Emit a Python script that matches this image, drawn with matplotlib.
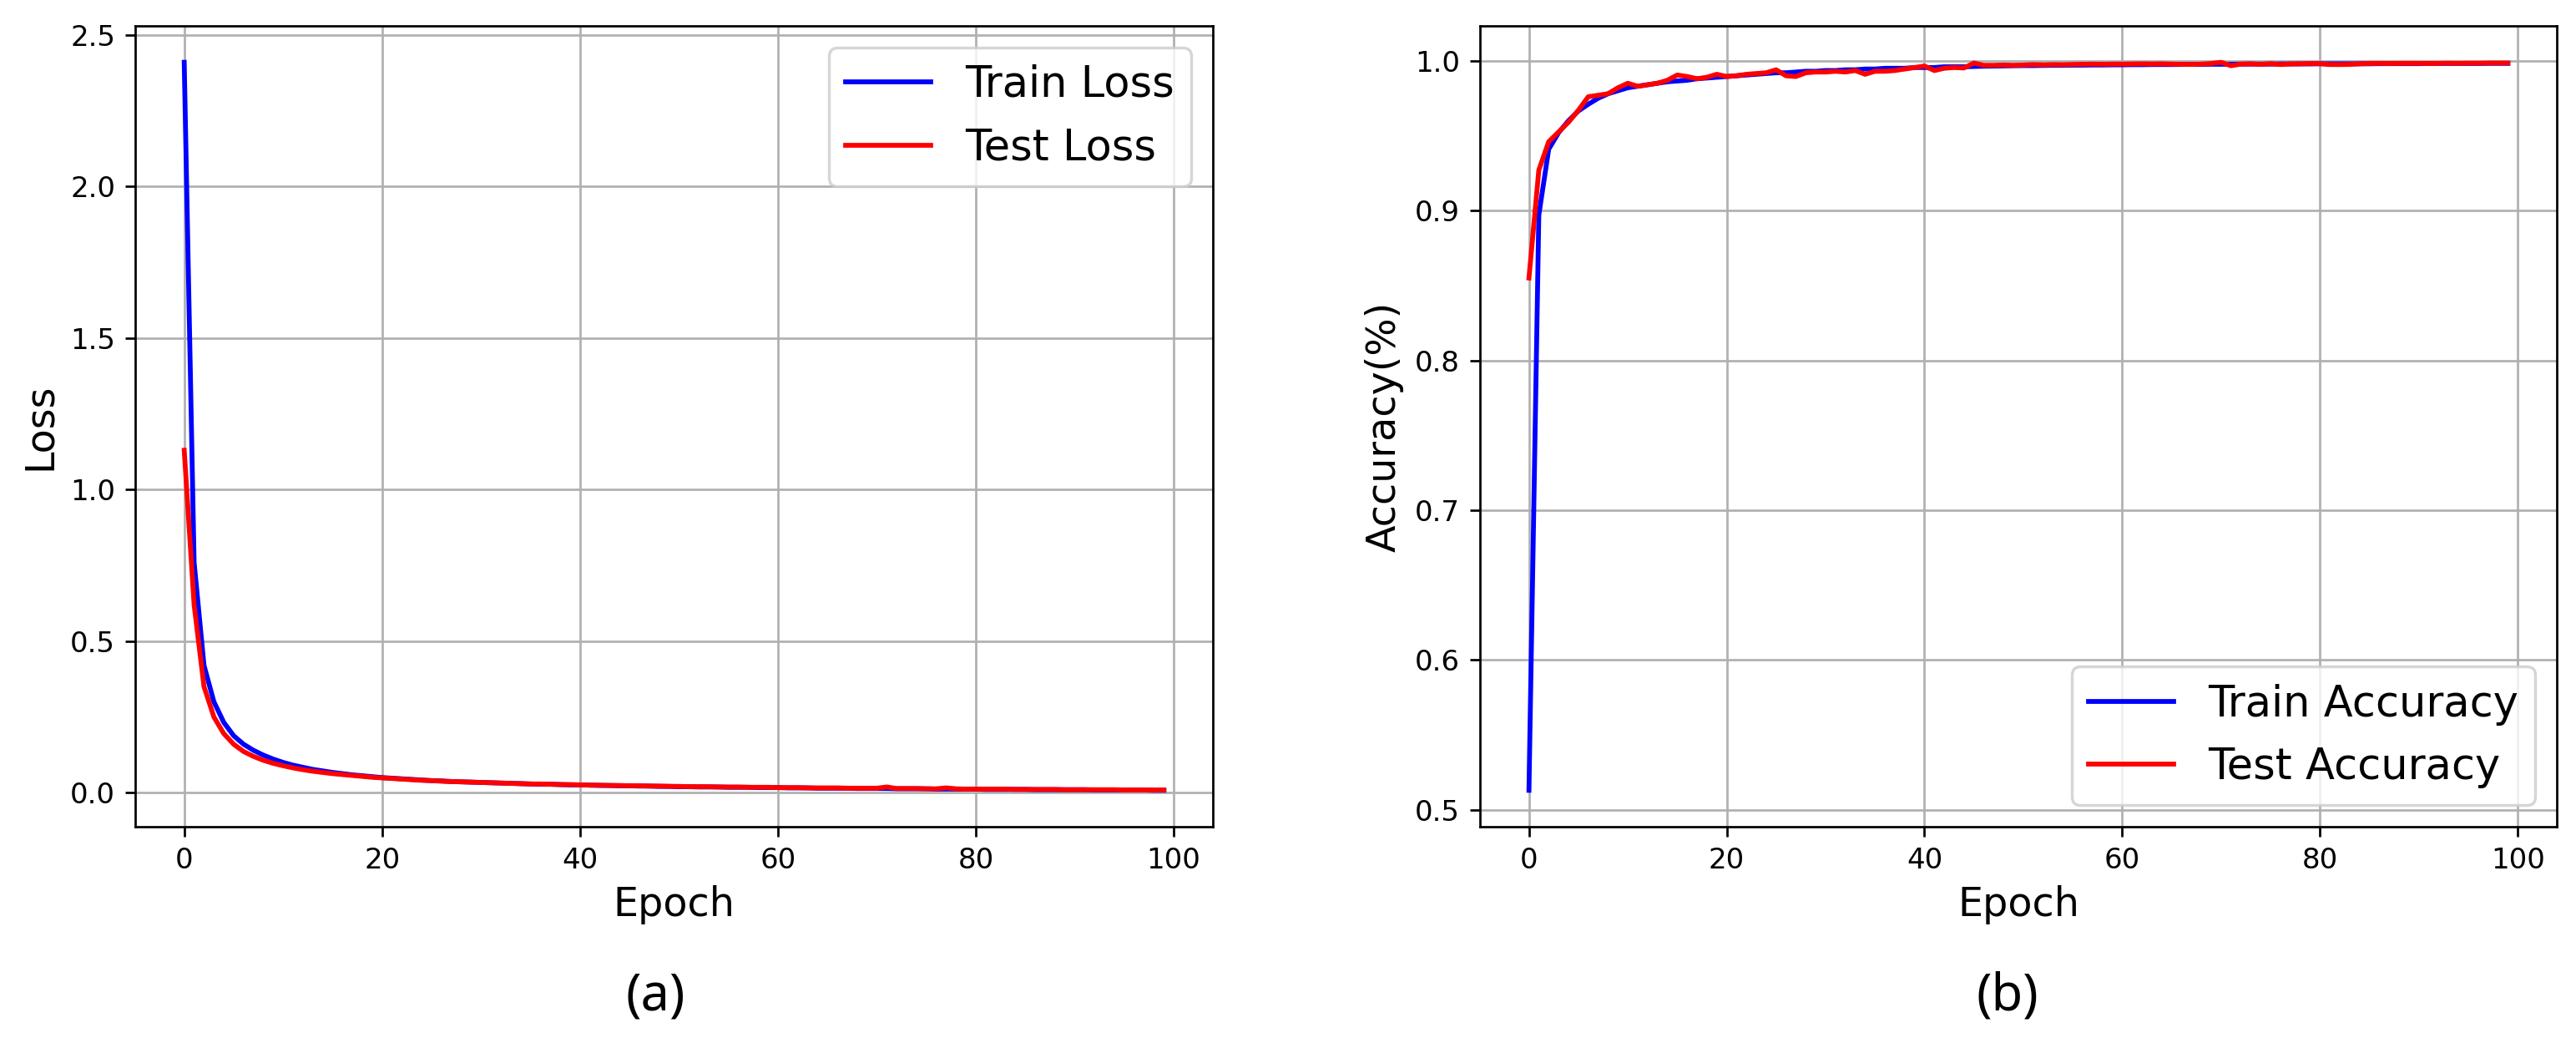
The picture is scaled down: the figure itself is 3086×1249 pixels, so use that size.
import matplotlib
matplotlib.use("Agg")
import matplotlib.pyplot as plt

epochs = list(range(100))

train_loss = [
    2.41, 0.76, 0.42, 0.30, 0.232, 0.188, 0.160, 0.140, 0.124, 0.111,
    0.100, 0.091, 0.084, 0.077, 0.072, 0.067, 0.063, 0.059, 0.056, 0.053,
    0.050, 0.048, 0.046, 0.044, 0.042, 0.040, 0.039, 0.037, 0.036, 0.035,
    0.034, 0.033, 0.032, 0.031, 0.030, 0.029, 0.028, 0.028, 0.027, 0.026,
    0.026, 0.025, 0.024, 0.024, 0.023, 0.023, 0.022, 0.022, 0.021, 0.021,
    0.020, 0.020, 0.019, 0.019, 0.019, 0.018, 0.018, 0.018, 0.017, 0.017,
    0.017, 0.016, 0.016, 0.016, 0.015, 0.015, 0.015, 0.015, 0.014, 0.014,
    0.014, 0.014, 0.013, 0.013, 0.013, 0.013, 0.012, 0.012, 0.012, 0.012,
    0.012, 0.011, 0.011, 0.011, 0.011, 0.011, 0.010, 0.010, 0.010, 0.010,
    0.010, 0.010, 0.009, 0.009, 0.009, 0.009, 0.009, 0.009, 0.008, 0.008,
]

test_loss = [
    1.13, 0.62, 0.35, 0.25, 0.195, 0.160, 0.136, 0.120, 0.107, 0.097,
    0.089, 0.082, 0.076, 0.071, 0.067, 0.063, 0.060, 0.057, 0.054, 0.051,
    0.049, 0.047, 0.045, 0.043, 0.041, 0.040, 0.038, 0.037, 0.036, 0.035,
    0.034, 0.033, 0.032, 0.031, 0.030, 0.029, 0.029, 0.028, 0.027, 0.027,
    0.026, 0.025, 0.025, 0.024, 0.024, 0.023, 0.023, 0.022, 0.022, 0.021,
    0.021, 0.020, 0.020, 0.020, 0.019, 0.019, 0.019, 0.018, 0.018, 0.018,
    0.017, 0.017, 0.017, 0.016, 0.016, 0.016, 0.016, 0.015, 0.015, 0.015,
    0.015, 0.019, 0.014, 0.014, 0.014, 0.013, 0.013, 0.016, 0.013, 0.012,
    0.012, 0.012, 0.012, 0.012, 0.011, 0.011, 0.011, 0.011, 0.011, 0.010,
    0.010, 0.010, 0.010, 0.010, 0.010, 0.009, 0.009, 0.009, 0.009, 0.009,
]

train_acc = [
    0.513, 0.897, 0.941, 0.952, 0.960, 0.9665, 0.971, 0.975, 0.978, 0.980,
    0.982, 0.983, 0.984, 0.985, 0.986, 0.9865, 0.987, 0.988, 0.9885, 0.989,
    0.9895, 0.990, 0.9905, 0.991, 0.9915, 0.992, 0.992, 0.9925, 0.993, 0.993,
    0.9935, 0.9935, 0.994, 0.994, 0.9945, 0.9945, 0.995, 0.995, 0.995, 0.9955,
    0.9955, 0.9955, 0.996, 0.996, 0.996, 0.9962, 0.9964, 0.9965, 0.9966, 0.9967,
    0.9968, 0.9968, 0.9969, 0.997, 0.997, 0.9971, 0.9971, 0.9972, 0.9972, 0.9973,
    0.9973, 0.9974, 0.9974, 0.9975, 0.9975, 0.9975, 0.9976, 0.9976, 0.9976, 0.9977,
    0.9977, 0.9977, 0.9978, 0.9978, 0.9978, 0.9978, 0.9979, 0.9979, 0.9979, 0.9979,
    0.998, 0.998, 0.998, 0.998, 0.998, 0.998, 0.9981, 0.9981, 0.9981, 0.9981,
    0.9981, 0.9982, 0.9982, 0.9982, 0.9982, 0.9982, 0.9982, 0.9983, 0.9983, 0.9983,
]

test_acc = [
    0.855, 0.927, 0.946, 0.9525, 0.959, 0.967, 0.976, 0.977, 0.978, 0.982,
    0.985, 0.983, 0.984, 0.985, 0.987, 0.9905, 0.9895, 0.988, 0.989, 0.991,
    0.9895, 0.990, 0.991, 0.9915, 0.992, 0.994, 0.990, 0.9895, 0.992, 0.9925,
    0.9925, 0.993, 0.9925, 0.9935, 0.991, 0.993, 0.993, 0.9935, 0.9945, 0.9955,
    0.9965, 0.9935, 0.995, 0.9955, 0.9952, 0.9985, 0.997, 0.997, 0.9972, 0.997,
    0.9972, 0.9975, 0.9973, 0.9975, 0.9974, 0.9976, 0.9977, 0.9978, 0.9977, 0.9978,
    0.9978, 0.9979, 0.998, 0.9979, 0.998, 0.9978, 0.9977, 0.9976, 0.9978, 0.9982,
    0.999, 0.9967, 0.9978, 0.998, 0.9976, 0.9981, 0.9975, 0.9979, 0.998, 0.9982,
    0.9981, 0.9975, 0.9975, 0.9976, 0.998, 0.9982, 0.9983, 0.9982, 0.9983, 0.9983,
    0.9983, 0.9982, 0.9983, 0.9984, 0.9983, 0.9984, 0.9984, 0.9985, 0.9985, 0.9985,
]

captions = ["(a)", "(b)"]

DPI = 245
fig = plt.figure(figsize=(3086 / DPI, 1249 / DPI), dpi=DPI)

W, H = 3086, 1249
ax1 = fig.add_axes([162 / W, 1 - 990 / H, 1291 / W, (990 - 31) / H])
ax2 = fig.add_axes([1773 / W, 1 - 990 / H, 1290 / W, (990 - 31) / H])

LW = 1.7
ax1.plot(epochs, train_loss, color="blue", lw=LW, label="Train Loss")
ax1.plot(epochs, test_loss, color="red", lw=LW, label="Test Loss")
ax1.set_xlabel("Epoch", fontsize=14)
ax1.set_ylabel("Loss", fontsize=14)
ax1.grid(True)
ax1.legend(fontsize=15, loc="upper right")

ax2.plot(epochs, train_acc, color="blue", lw=LW, label="Train Accuracy")
ax2.plot(epochs, test_acc, color="red", lw=LW, label="Test Accuracy")
ax2.set_xlabel("Epoch", fontsize=14)
ax2.set_ylabel("Accuracy(%)", fontsize=14)
ax2.grid(True)
ax2.legend(fontsize=15, loc="lower right")

for ax in (ax1, ax2):
    ax.tick_params(labelsize=10)

fig.text(785 / W, 1 - 1193 / H, captions[0], ha="center", va="center",
         fontsize=18, family=["Noto Sans", "DejaVu Sans"])
fig.text(2405 / W, 1 - 1193 / H, captions[1], ha="center", va="center",
         fontsize=18, family=["Noto Sans", "DejaVu Sans"])

fig.savefig("out.png", dpi=DPI)
